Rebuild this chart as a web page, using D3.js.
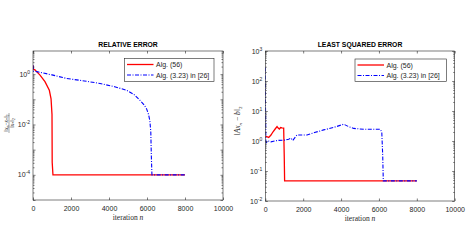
<!DOCTYPE html>
<html><head><meta charset="utf-8">
<script src="https://cdn.jsdelivr.net/npm/d3@7"></script>
<style>
html,body{margin:0;padding:0;background:#fff;}
svg{display:block;font-family:"Liberation Sans",Arial,sans-serif;}
</style></head><body>
<svg id="chart" width="474" height="250"></svg>
<script>
// ---------- data ----------
const seriesNames = ["Alg. (56)", "Alg. (3.23) in [26]"];
const titles = ["RELATIVE ERROR", "LEAST SQUARED ERROR"];
const xTicks = [0, 2000, 4000, 6000, 8000, 10000];
const leftYTicks = [0, -2, -4];           // exponents labelled
const rightYTicks = [3, 2, 1, 0, -1, -2];

// left panel (relative error), values as log10
const relRedIter = [0, 20, 100, 370, 630, 860, 950, 1000, 1010, 1050, 8000];
const relRedLog  = [0.35, 0.2, 0.17, -0.04, -0.3, -0.64, -0.98, -1.6, -3.5, -4, -4];
const relBlueIter = [0, 20, 200, 1000, 1770, 2700, 3530, 4300, 4930, 5300, 5630, 5850, 5980, 6080, 6150, 6200, 6230, 6260, 8000];
const relBlueLog  = [0.35, 0.12, 0.1, -0.03, -0.17, -0.27, -0.37, -0.5, -0.64, -0.8, -1.04, -1.22, -1.38, -1.6, -1.85, -2.3, -3.3, -4, -4];

// right panel (least squared error), values as log10
const lsRedIter = [0, 50, 180, 300, 400, 520, 620, 680, 740, 810, 880, 970, 1000, 1020, 1050, 8000];
const lsRedLog  = [0.14, 0.15, 0.12, 0.2, 0.3, 0.4, 0.48, 0.43, 0.4, 0.45, 0.44, 0.43, -0.5, -1.33, -1.33, -1.33];
const lsBlueIter = [0, 10, 30, 60, 150, 300, 500, 700, 1000, 1235, 1350, 1450, 1670, 1900, 2200, 2600, 3080, 3600, 4140, 4400, 4670, 5200, 5700, 6070, 6150, 6200, 6230, 8000];
const lsBlueLog  = [2.45, 1.2, 0.0, -0.05, 0.0, -0.03, 0.0, 0.02, 0.03, 0.06, 0.1, 0.02, 0.2, 0.2, 0.2, 0.28, 0.37, 0.45, 0.56, 0.48, 0.42, 0.39, 0.39, 0.39, 0.3, -0.5, -1.33, -1.33];

// ---------- drawing ----------
const svg = d3.select("#chart");
const axisColor = "#262626";
const colors = ["#ff0000", "#0000ff"];

function panel(opt){
  const g = svg.append("g");
  const x = d3.scaleLinear().domain([0, 10000]).range([opt.x0, opt.x1]);
  const y = d3.scaleLog().domain(opt.ydom).range([opt.y1, opt.y0]);
  const cid = "clip" + opt.id;
  svg.append("clipPath").attr("id", cid).append("rect")
    .attr("x", opt.x0).attr("y", opt.y0).attr("width", opt.x1 - opt.x0).attr("height", opt.y1 - opt.y0);

  const line = d3.line().x(d => x(d[0])).y(d => y(Math.pow(10, d[1])));
  const lg = g.append("g").attr("clip-path", `url(#${cid})`);
  lg.append("path").datum(d3.zip(opt.red[0], opt.red[1])).attr("d", line)
    .attr("fill", "none").attr("stroke", colors[0]).attr("stroke-width", 1.3);
  lg.append("path").datum(d3.zip(opt.blue[0], opt.blue[1])).attr("d", line)
    .attr("fill", "none").attr("stroke", colors[1]).attr("stroke-width", 1.1)
    .attr("stroke-dasharray", "4,1.5,1,1.5");

  g.append("rect").attr("x", opt.x0).attr("y", opt.y0).attr("width", opt.x1 - opt.x0).attr("height", opt.y1 - opt.y0)
    .attr("fill", "none").attr("stroke", axisColor).attr("stroke-width", 0.6);

  const xb = g.append("g").attr("transform", `translate(0,${opt.y1})`)
    .call(d3.axisBottom(x).tickValues(xTicks).tickFormat(d3.format("d")).tickSizeInner(-2.5).tickSizeOuter(0).tickPadding(6));
  const xt = g.append("g").attr("transform", `translate(0,${opt.y0})`)
    .call(d3.axisTop(x).tickValues(xTicks).tickFormat("").tickSizeInner(-2.5).tickSizeOuter(0));
  const [lo, hi] = opt.ydom.map(v => Math.log10(v));
  const majors = d3.range(Math.ceil(lo), Math.floor(hi) + 1).map(e => Math.pow(10, e));
  const minors = [];
  for (let e = Math.floor(lo); e <= Math.ceil(hi); e++) for (let k = 2; k <= 9; k++) {
    const v = k * Math.pow(10, e);
    if (v >= opt.ydom[0] && v <= opt.ydom[1]) minors.push(v);
  }
  const yl = g.append("g").attr("transform", `translate(${opt.x0},0)`)
    .call(d3.axisLeft(y).tickValues(majors).tickFormat("").tickSizeInner(-2.5).tickSizeOuter(0));
  const yr = g.append("g").attr("transform", `translate(${opt.x1},0)`)
    .call(d3.axisRight(y).tickValues(majors).tickFormat("").tickSizeInner(-2.5).tickSizeOuter(0));
  const ylm = g.append("g").attr("transform", `translate(${opt.x0},0)`)
    .call(d3.axisLeft(y).tickValues(minors).tickFormat("").tickSizeInner(-1.5).tickSizeOuter(0));
  const yrm = g.append("g").attr("transform", `translate(${opt.x1},0)`)
    .call(d3.axisRight(y).tickValues(minors).tickFormat("").tickSizeInner(-1.5).tickSizeOuter(0));
  [xb, xt, yl, yr, ylm, yrm].forEach(a => {
    a.select(".domain").remove();
    a.selectAll("line").attr("stroke", axisColor).attr("stroke-width", 0.6);
    a.selectAll("text").attr("fill", axisColor).attr("font-size", 7).attr("font-family", "Liberation Sans, Arial, sans-serif");
  });

  opt.ylabels.forEach(e => {
    const t = g.append("text").attr("x", opt.x0 - 3).attr("y", y(Math.pow(10, e)) + 2.5)
      .attr("text-anchor", "end").attr("fill", axisColor).attr("font-size", 7);
    t.append("tspan").text("10");
    t.append("tspan").attr("dy", -3).attr("font-size", 5).text(e);
  });

  g.append("text").attr("x", (opt.x0 + opt.x1) / 2).attr("y", opt.y0 - 4)
    .attr("text-anchor", "middle").attr("font-weight", "bold").attr("font-size", 6.8)
    .attr("fill", "#000").text(opt.title);

  const xl = g.append("text").attr("x", (opt.x0 + opt.x1) / 2).attr("y", opt.y1 + 20)
    .attr("text-anchor", "middle").attr("font-family", "Liberation Serif, Times New Roman, serif")
    .attr("font-size", 7.5).attr("fill", axisColor);
  xl.append("tspan").text("iteration ");
  xl.append("tspan").attr("font-style", "italic").text("n");

  const L = opt.legend;
  g.append("rect").attr("x", L.x).attr("y", L.y).attr("width", L.w).attr("height", L.h)
    .attr("fill", "#fff").attr("stroke", axisColor).attr("stroke-width", 0.6);
  seriesNames.forEach((name, i) => {
    const yy = L.y + 6 + i * 10.5;
    const ln = g.append("line").attr("x1", L.x + 2.5).attr("x2", L.x + 29).attr("y1", yy).attr("y2", yy)
      .attr("stroke", colors[i]).attr("stroke-width", i === 0 ? 1.3 : 1.1);
    if (i === 1) ln.attr("stroke-dasharray", "4,1.5,1,1.5");
    g.append("text").attr("x", L.x + 31.5).attr("y", yy + 2.5).attr("font-size", 7)
      .attr("fill", axisColor).text(name);
  });
  return {g, x, y};
}

panel({id: 1, x0: 33, x1: 223, y0: 51, y1: 200, ydom: [1e-5, Math.pow(10, 0.92)],
  red: [relRedIter, relRedLog], blue: [relBlueIter, relBlueLog], ylabels: leftYTicks,
  title: titles[0], legend: {x: 124.5, y: 58.5, w: 89.5, h: 23}});
panel({id: 2, x0: 265.3, x1: 454.7, y0: 51, y1: 201, ydom: [1e-2, 1e3],
  red: [lsRedIter, lsRedLog], blue: [lsBlueIter, lsBlueLog], ylabels: rightYTicks,
  title: titles[1], legend: {x: 355, y: 59, w: 91.5, h: 22.5}});

const serif = "Liberation Serif, Times New Roman, serif";
const yl1 = svg.append("g").attr("transform", "translate(9,123) rotate(-90)");
const num = yl1.append("text").attr("x", 0).attr("y", -1.5).attr("text-anchor", "middle")
  .attr("font-family", serif).attr("font-size", 5.5).attr("fill", axisColor);
num.append("tspan").text("\u2016");
num.append("tspan").attr("font-style", "italic").text("x");
num.append("tspan").attr("font-size", 4).attr("dy", 1).text("n");
num.append("tspan").attr("dy", -1).text("\u2212");
num.append("tspan").attr("font-style", "italic").text("x");
num.append("tspan").attr("font-size", 4).attr("dy", 1).text("*");
num.append("tspan").attr("dy", -1).text("\u2016");
num.append("tspan").attr("font-size", 4).attr("dy", 1).text("2");
yl1.append("line").attr("x1", -10).attr("x2", 10).attr("y1", 0).attr("y2", 0).attr("stroke", axisColor).attr("stroke-width", 0.4);
const den = yl1.append("text").attr("x", 0).attr("y", 5).attr("text-anchor", "middle")
  .attr("font-family", serif).attr("font-size", 5.5).attr("fill", axisColor);
den.append("tspan").text("\u2016");
den.append("tspan").attr("font-style", "italic").text("x");
den.append("tspan").attr("font-size", 4).attr("dy", 1).text("*");
den.append("tspan").attr("dy", -1).text("\u2016");
den.append("tspan").attr("font-size", 4).attr("dy", 1).text("2");

const yl2 = svg.append("text").attr("transform", "translate(240,121) rotate(-90)").attr("text-anchor", "middle")
  .attr("font-family", serif).attr("font-size", 7.5).attr("fill", axisColor);
yl2.append("tspan").text("\u2016");
yl2.append("tspan").attr("font-style", "italic").text("Ax");
yl2.append("tspan").attr("font-style", "italic").attr("font-size", 5).attr("dy", 1.5).text("n");
yl2.append("tspan").attr("dy", -1.5).text(" \u2212 ");
yl2.append("tspan").attr("font-style", "italic").text("b");
yl2.append("tspan").text("\u2016");
yl2.append("tspan").attr("font-size", 5).attr("dy", 1.5).text("2");
</script>
</body></html>
